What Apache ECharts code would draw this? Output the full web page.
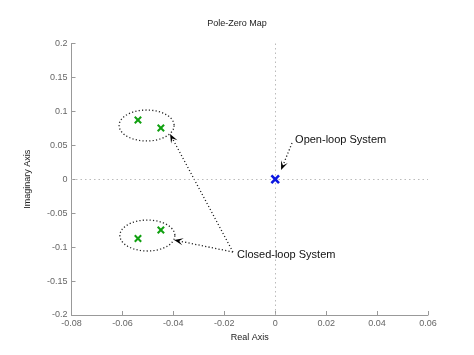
<!DOCTYPE html>
<html><head><meta charset="utf-8">
<script src="https://cdn.jsdelivr.net/npm/echarts@6/dist/echarts.min.js"></script>
<style>html,body{margin:0;padding:0;background:#fff}#c{width:474px;height:355px}</style>
</head><body><div id="c"></div>
<script>
const titleText = 'Pole-Zero Map';
const xAxisName = 'Real Axis';
const yAxisName = 'Imaginary Axis';
// poles [real, imag]
const closedLoopPoles = [[-0.0539, 0.0873], [-0.0449, 0.0755], [-0.0539, -0.0873], [-0.0449, -0.0748]];
const openLoopPoles = [[0, 0]];
// annotation ellipses: [centerReal, centerImag, radiusReal, radiusImag]
const ellipses = [[-0.0505, 0.0792, 0.0108, 0.0228], [-0.0502, -0.0829, 0.0108, 0.0228]];
// annotation arrows: [fromReal, fromImag, toReal, toImag]
const arrows = [[-0.0166, -0.1072, -0.0413, 0.0667], [-0.0166, -0.1072, -0.0397, -0.0895], [0.0066, 0.0534, 0.0023, 0.0136]];
// annotation texts: [real, imag, text]
const labels = [[0.0078, 0.0578, 'Open-loop System'], [-0.015, -0.1116, 'Closed-loop System']];
const xRange = [-0.08, 0.06, 0.02];
const yRange = [-0.2, 0.2, 0.05];

const FONT = 'Liberation Sans, Arial, sans-serif';
const fmt = v => String(+(+v).toFixed(2));

function crossRender(s, color, lw) {
  return function (params, api) {
    const p = api.coord([api.value(0), api.value(1)]);
    return {type: 'group', children: [
      {type: 'line', shape: {x1: p[0]-s, y1: p[1]-s, x2: p[0]+s, y2: p[1]+s}, style: {stroke: color, lineWidth: lw}},
      {type: 'line', shape: {x1: p[0]-s, y1: p[1]+s, x2: p[0]+s, y2: p[1]-s}, style: {stroke: color, lineWidth: lw}}
    ]};
  };
}

function ellipseRender(params, api) {
  const c = api.coord([api.value(0), api.value(1)]);
  const e = api.coord([api.value(0) + api.value(2), api.value(1) + api.value(3)]);
  const rx = Math.abs(e[0] - c[0]), ry = Math.abs(e[1] - c[1]);
  const pts = [];
  for (let i = 0; i < 72; i++) {
    const a = i / 72 * Math.PI * 2;
    pts.push([c[0] + rx * Math.cos(a), c[1] + ry * Math.sin(a)]);
  }
  return {type: 'polygon', shape: {points: pts}, style: {fill: 'none', stroke: '#222', lineWidth: 1.3, lineDash: [1.2, 2.2]}};
}

function arrowRender(params, api) {
  const a = api.coord([api.value(0), api.value(1)]);
  const b = api.coord([api.value(2), api.value(3)]);
  const dx = b[0] - a[0], dy = b[1] - a[1];
  const L = Math.sqrt(dx*dx + dy*dy);
  const ux = dx / L, uy = dy / L, nx = -uy, ny = ux;
  const hl = 9, hw = 3.6, notch = 5;
  const base = [b[0] - ux*hl, b[1] - uy*hl];
  const mid = [b[0] - ux*notch, b[1] - uy*notch];
  return {type: 'group', children: [
    {type: 'line', shape: {x1: a[0], y1: a[1], x2: mid[0], y2: mid[1]}, style: {stroke: '#222', lineWidth: 1.3, lineDash: [1.2, 2.2]}},
    {type: 'polygon', shape: {points: [b, [base[0] + nx*hw, base[1] + ny*hw], mid, [base[0] - nx*hw, base[1] - ny*hw]]}, style: {fill: '#000'}}
  ]};
}

function labelRender(params, api) {
  const p = api.coord([api.value(0), api.value(1)]);
  return {type: 'text', x: p[0], y: p[1], style: {text: labels[params.dataIndex][2], fill: '#111', font: '11px ' + FONT, textAlign: 'left', textVerticalAlign: 'middle'}};
}

const axisCommon = {
  type: 'value', nameLocation: 'middle',
  nameTextStyle: {color: '#222', fontSize: 9, fontFamily: FONT},
  axisLine: {show: true, onZero: false, lineStyle: {color: '#999', width: 1}},
  axisTick: {show: true, inside: true, length: 4, lineStyle: {color: '#999'}},
  axisLabel: {color: '#666', fontSize: 9, fontFamily: FONT, formatter: fmt},
  splitLine: {show: false}
};

const chart = echarts.init(document.getElementById('c'));
chart.setOption({
  animation: false,
  title: {text: titleText, left: 'center', top: 14, textStyle: {fontSize: 9, fontWeight: 'normal', color: '#222', fontFamily: FONT}},
  grid: {left: 71.5, right: 46, top: 43.5, bottom: 40},
  xAxis: Object.assign({}, axisCommon, {min: xRange[0], max: xRange[1], interval: xRange[2], name: xAxisName, nameGap: 16,
    axisLabel: Object.assign({}, axisCommon.axisLabel, {margin: 4})}),
  yAxis: Object.assign({}, axisCommon, {min: yRange[0], max: yRange[1], interval: yRange[2], name: yAxisName, nameGap: 39,
    axisLabel: Object.assign({}, axisCommon.axisLabel, {margin: 4})}),
  series: [
    {type: 'scatter', data: [], z: 1, silent: true,
      markLine: {silent: true, symbol: 'none', label: {show: false},
        lineStyle: {type: [1.5, 3], color: '#bbb', width: 1},
        data: [{xAxis: 0}, {yAxis: 0}]}},
    {type: 'custom', z: 3, renderItem: ellipseRender, data: ellipses, silent: true},
    {type: 'custom', z: 4, renderItem: arrowRender, data: arrows, silent: true},
    {type: 'custom', z: 5, renderItem: labelRender, data: labels.map(l => [l[0], l[1]]), silent: true},
    {type: 'custom', z: 6, renderItem: crossRender(3.2, '#10a010', 2), data: closedLoopPoles, silent: true},
    {type: 'custom', z: 6, renderItem: crossRender(3.8, '#0a16e0', 2.6), data: openLoopPoles, silent: true}
  ]
});
</script></body></html>
